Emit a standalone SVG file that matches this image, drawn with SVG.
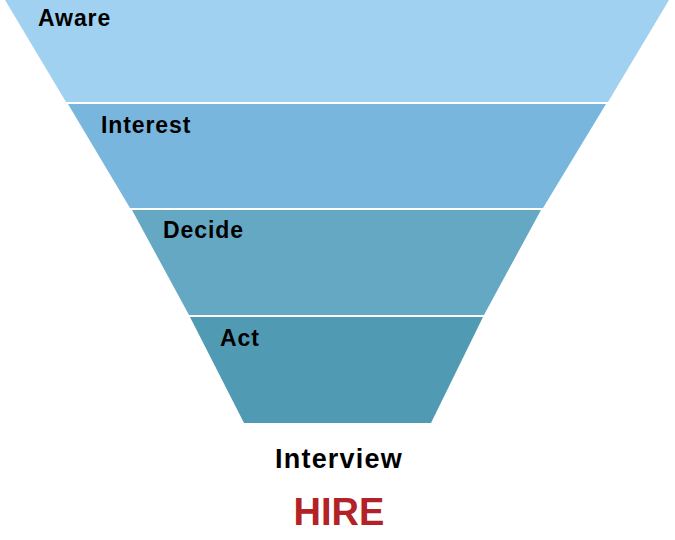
<svg xmlns="http://www.w3.org/2000/svg" width="675" height="540" viewBox="0 0 675 540">
<style>
.lbl{font-family:"Liberation Sans",Arial,sans-serif;font-weight:bold;font-size:23px;letter-spacing:0.9px;fill:#000}
.big{font-family:"Liberation Sans",Arial,sans-serif;font-weight:bold;text-anchor:middle}
</style>
<rect width="675" height="540" fill="#fff"/>
<g id="aware"><polygon points="5,0 669,0 608,102 66,102" fill="#A0D1F0"/><text class="lbl" x="38" y="26">Aware</text></g>
<g id="interest"><polygon points="68,104 606,104 543,208 130,208" fill="#79B6DE"/><text class="lbl" x="101" y="133">Interest</text></g>
<g id="decide"><polygon points="132,210 541,210 484,315 189,315" fill="#65A8C3"/><text class="lbl" x="163" y="238">Decide</text></g>
<g id="act"><polygon points="190,317 483,317 431,423 244,423" fill="#509BB3"/><text class="lbl" x="220" y="346">Act</text></g>
<g id="interview"><text class="big" x="339" y="468" font-size="27" letter-spacing="1.2" fill="#000">Interview</text></g>
<g id="hire"><text class="big" x="339" y="525" font-size="38" fill="#B22227">HIRE</text></g>
<g id="connectors"></g>
</svg>
